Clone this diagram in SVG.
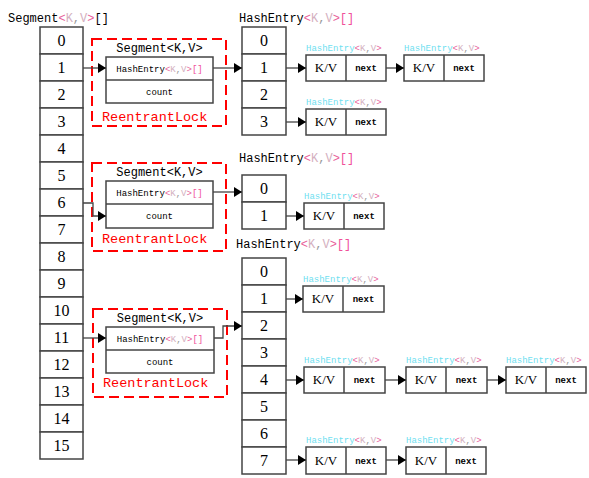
<svg xmlns="http://www.w3.org/2000/svg" width="589" height="478" viewBox="0 0 589 478">
<defs>
<marker id="ah" markerWidth="8" markerHeight="10" refX="8" refY="5" orient="auto" markerUnits="userSpaceOnUse">
<path d="M0,0 L8,5 L0,10 Z" fill="#000"/>
</marker>
<style>
.cell{fill:#fff;stroke:#444;stroke-width:1.5}
.box{fill:#fff;stroke:#444;stroke-width:1.5}
.dash{fill:none;stroke:#f00;stroke-width:2;stroke-dasharray:10,5}
.num{font-family:"Liberation Serif",serif;font-size:16px;fill:#000;text-anchor:middle}
.kv{font-family:"Liberation Serif",serif;font-size:13px;fill:#000;text-anchor:middle}
.nx{font-family:"Liberation Mono",monospace;font-size:9px;font-weight:bold;fill:#000;text-anchor:middle}
.mono12{font-family:"Liberation Mono",monospace;font-size:12px;fill:#000}
.mono9{font-family:"Liberation Mono",monospace;font-size:9px;fill:#000}
.lock{font-family:"Liberation Mono",monospace;font-size:13.5px;fill:#f00}
.cy{fill:#70e0f0}
.pk{fill:#e8609a}
.lt{fill:#d4b0c0}
.gr{fill:#999}
.hp{fill:#f0509a}
.conn{fill:none;stroke:#444;stroke-width:1.3}
</style>
</defs>

<text x="8" y="22" class="mono12">Segment<tspan class="pk">&lt;</tspan><tspan class="lt">K</tspan><tspan class="gr">,</tspan><tspan class="lt">V</tspan><tspan class="pk">&gt;</tspan>[]</text>

<g id="segment-array">
<rect class="cell" x="40" y="27" width="43" height="27"/><text class="num" x="61.5" y="46">0</text>
<rect class="cell" x="40" y="54" width="43" height="27"/><text class="num" x="61.5" y="73">1</text>
<rect class="cell" x="40" y="81" width="43" height="27"/><text class="num" x="61.5" y="100">2</text>
<rect class="cell" x="40" y="108" width="43" height="27"/><text class="num" x="61.5" y="127">3</text>
<rect class="cell" x="40" y="135" width="43" height="27"/><text class="num" x="61.5" y="154">4</text>
<rect class="cell" x="40" y="162" width="43" height="27"/><text class="num" x="61.5" y="181">5</text>
<rect class="cell" x="40" y="189" width="43" height="27"/><text class="num" x="61.5" y="208">6</text>
<rect class="cell" x="40" y="216" width="43" height="27"/><text class="num" x="61.5" y="235">7</text>
<rect class="cell" x="40" y="243" width="43" height="27"/><text class="num" x="61.5" y="262">8</text>
<rect class="cell" x="40" y="270" width="43" height="27"/><text class="num" x="61.5" y="289">9</text>
<rect class="cell" x="40" y="297" width="43" height="27"/><text class="num" x="61.5" y="316">10</text>
<rect class="cell" x="40" y="324" width="43" height="27"/><text class="num" x="61.5" y="343">11</text>
<rect class="cell" x="40" y="351" width="43" height="27"/><text class="num" x="61.5" y="370">12</text>
<rect class="cell" x="40" y="378" width="43" height="27"/><text class="num" x="61.5" y="397">13</text>
<rect class="cell" x="40" y="405" width="43" height="27"/><text class="num" x="61.5" y="424">14</text>
<rect class="cell" x="40" y="432" width="43" height="27"/><text class="num" x="61.5" y="451">15</text>
</g>

<g id="segment-1">
<rect class="dash" x="92" y="39" width="134" height="87"/>
<text class="mono12" x="159.5" y="52" text-anchor="middle">Segment&lt;K,V&gt;</text>
<rect class="box" x="106" y="57" width="107" height="46"/>
<line x1="106" y1="80" x2="213" y2="80" stroke="#444" stroke-width="1.5"/>
<text class="mono9" x="159.5" y="72" text-anchor="middle">HashEntry<tspan class="pk">&lt;</tspan><tspan class="lt">K</tspan><tspan class="gr">,</tspan><tspan class="lt">V</tspan><tspan class="pk">&gt;</tspan><tspan class="hp">[]</tspan></text>
<text class="mono9" x="159.5" y="95" text-anchor="middle">count</text>
<text class="lock" x="102" y="121">ReentrantLock</text>
</g>

<g id="segment-2">
<rect class="dash" x="92" y="163" width="134" height="88"/>
<text class="mono12" x="159.5" y="176" text-anchor="middle">Segment&lt;K,V&gt;</text>
<rect class="box" x="106" y="181" width="107" height="47"/>
<line x1="106" y1="204" x2="213" y2="204" stroke="#444" stroke-width="1.5"/>
<text class="mono9" x="159.5" y="196" text-anchor="middle">HashEntry<tspan class="pk">&lt;</tspan><tspan class="lt">K</tspan><tspan class="gr">,</tspan><tspan class="lt">V</tspan><tspan class="pk">&gt;</tspan><tspan class="hp">[]</tspan></text>
<text class="mono9" x="159.5" y="219" text-anchor="middle">count</text>
<text class="lock" x="102" y="243">ReentrantLock</text>
</g>

<g id="segment-3">
<rect class="dash" x="93" y="309" width="134" height="88"/>
<text class="mono12" x="160" y="322" text-anchor="middle">Segment&lt;K,V&gt;</text>
<rect class="box" x="106" y="327" width="108" height="46"/>
<line x1="106" y1="350" x2="214" y2="350" stroke="#444" stroke-width="1.5"/>
<text class="mono9" x="160" y="342" text-anchor="middle">HashEntry<tspan class="pk">&lt;</tspan><tspan class="lt">K</tspan><tspan class="gr">,</tspan><tspan class="lt">V</tspan><tspan class="pk">&gt;</tspan><tspan class="hp">[]</tspan></text>
<text class="mono9" x="160" y="365" text-anchor="middle">count</text>
<text class="lock" x="103" y="387">ReentrantLock</text>
</g>

<g id="hash-array-1">
<text class="mono12" x="239" y="22">HashEntry<tspan class="pk">&lt;</tspan><tspan class="lt">K</tspan><tspan class="gr">,</tspan><tspan class="lt">V</tspan><tspan class="pk">&gt;</tspan><tspan class="hp">[]</tspan></text>
<rect class="cell" x="242" y="27" width="44" height="27"/><text class="num" x="264" y="46">0</text>
<rect class="cell" x="242" y="54" width="44" height="27"/><text class="num" x="264" y="73">1</text>
<rect class="cell" x="242" y="81" width="44" height="27"/><text class="num" x="264" y="100">2</text>
<rect class="cell" x="242" y="108" width="44" height="27"/><text class="num" x="264" y="127">3</text>
</g>

<g id="hash-array-2">
<text class="mono12" x="239" y="162">HashEntry<tspan class="pk">&lt;</tspan><tspan class="lt">K</tspan><tspan class="gr">,</tspan><tspan class="lt">V</tspan><tspan class="pk">&gt;</tspan><tspan class="hp">[]</tspan></text>
<rect class="cell" x="242" y="175" width="44" height="27"/><text class="num" x="264" y="194">0</text>
<rect class="cell" x="242" y="202" width="44" height="27"/><text class="num" x="264" y="221">1</text>
</g>

<g id="hash-array-3">
<text class="mono12" x="236" y="248">HashEntry<tspan class="pk">&lt;</tspan><tspan class="lt">K</tspan><tspan class="gr">,</tspan><tspan class="lt">V</tspan><tspan class="pk">&gt;</tspan><tspan class="hp">[]</tspan></text>
<rect class="cell" x="242" y="258" width="44" height="27"/><text class="num" x="264" y="277">0</text>
<rect class="cell" x="242" y="285" width="44" height="27"/><text class="num" x="264" y="304">1</text>
<rect class="cell" x="242" y="312" width="44" height="27"/><text class="num" x="264" y="331">2</text>
<rect class="cell" x="242" y="339" width="44" height="27"/><text class="num" x="264" y="358">3</text>
<rect class="cell" x="242" y="366" width="44" height="27"/><text class="num" x="264" y="385">4</text>
<rect class="cell" x="242" y="393" width="44" height="27"/><text class="num" x="264" y="412">5</text>
<rect class="cell" x="242" y="420" width="44" height="27"/><text class="num" x="264" y="439">6</text>
<rect class="cell" x="242" y="447" width="44" height="27"/><text class="num" x="264" y="466">7</text>
</g>

<g id="entry-1a">
<text class="mono9" x="306" y="51"><tspan class="cy">HashEntry</tspan><tspan class="pk">&lt;</tspan><tspan class="lt">K</tspan><tspan class="gr">,</tspan><tspan class="lt">V</tspan><tspan class="pk">&gt;</tspan></text>
<rect class="box" x="306" y="55" width="80" height="26"/><line x1="346" y1="55" x2="346" y2="81" stroke="#444" stroke-width="1.5"/>
<text class="kv" x="326" y="72">K/V</text><text class="nx" x="366" y="71">next</text>
</g>
<g id="entry-1b">
<text class="mono9" x="404" y="51"><tspan class="cy">HashEntry</tspan><tspan class="pk">&lt;</tspan><tspan class="lt">K</tspan><tspan class="gr">,</tspan><tspan class="lt">V</tspan><tspan class="pk">&gt;</tspan></text>
<rect class="box" x="404" y="55" width="80" height="26"/><line x1="444" y1="55" x2="444" y2="81" stroke="#444" stroke-width="1.5"/>
<text class="kv" x="424" y="72">K/V</text><text class="nx" x="464" y="71">next</text>
</g>
<g id="entry-1c">
<text class="mono9" x="306" y="105"><tspan class="cy">HashEntry</tspan><tspan class="pk">&lt;</tspan><tspan class="lt">K</tspan><tspan class="gr">,</tspan><tspan class="lt">V</tspan><tspan class="pk">&gt;</tspan></text>
<rect class="box" x="306" y="109" width="80" height="26"/><line x1="346" y1="109" x2="346" y2="135" stroke="#444" stroke-width="1.5"/>
<text class="kv" x="326" y="126">K/V</text><text class="nx" x="366" y="125">next</text>
</g>
<g id="entry-2a">
<text class="mono9" x="304" y="199"><tspan class="cy">HashEntry</tspan><tspan class="pk">&lt;</tspan><tspan class="lt">K</tspan><tspan class="gr">,</tspan><tspan class="lt">V</tspan><tspan class="pk">&gt;</tspan></text>
<rect class="box" x="304" y="203" width="80" height="26"/><line x1="344" y1="203" x2="344" y2="229" stroke="#444" stroke-width="1.5"/>
<text class="kv" x="324" y="220">K/V</text><text class="nx" x="364" y="219">next</text>
</g>
<g id="entry-3a">
<text class="mono9" x="303" y="282"><tspan class="cy">HashEntry</tspan><tspan class="pk">&lt;</tspan><tspan class="lt">K</tspan><tspan class="gr">,</tspan><tspan class="lt">V</tspan><tspan class="pk">&gt;</tspan></text>
<rect class="box" x="303" y="286" width="81" height="26"/><line x1="343" y1="286" x2="343" y2="312" stroke="#444" stroke-width="1.5"/>
<text class="kv" x="323" y="303">K/V</text><text class="nx" x="363.5" y="302">next</text>
</g>
<g id="entry-3b">
<text class="mono9" x="304" y="363"><tspan class="cy">HashEntry</tspan><tspan class="pk">&lt;</tspan><tspan class="lt">K</tspan><tspan class="gr">,</tspan><tspan class="lt">V</tspan><tspan class="pk">&gt;</tspan></text>
<rect class="box" x="304" y="367" width="81" height="26"/><line x1="344" y1="367" x2="344" y2="393" stroke="#444" stroke-width="1.5"/>
<text class="kv" x="324" y="384">K/V</text><text class="nx" x="364.5" y="383">next</text>
</g>
<g id="entry-3c">
<text class="mono9" x="406" y="363"><tspan class="cy">HashEntry</tspan><tspan class="pk">&lt;</tspan><tspan class="lt">K</tspan><tspan class="gr">,</tspan><tspan class="lt">V</tspan><tspan class="pk">&gt;</tspan></text>
<rect class="box" x="406" y="367" width="81" height="26"/><line x1="446" y1="367" x2="446" y2="393" stroke="#444" stroke-width="1.5"/>
<text class="kv" x="426" y="384">K/V</text><text class="nx" x="466.5" y="383">next</text>
</g>
<g id="entry-3d">
<text class="mono9" x="506" y="363"><tspan class="cy">HashEntry</tspan><tspan class="pk">&lt;</tspan><tspan class="lt">K</tspan><tspan class="gr">,</tspan><tspan class="lt">V</tspan><tspan class="pk">&gt;</tspan></text>
<rect class="box" x="506" y="367" width="80" height="26"/><line x1="546" y1="367" x2="546" y2="393" stroke="#444" stroke-width="1.5"/>
<text class="kv" x="526" y="384">K/V</text><text class="nx" x="566" y="383">next</text>
</g>
<g id="entry-3e">
<text class="mono9" x="306" y="443"><tspan class="cy">HashEntry</tspan><tspan class="pk">&lt;</tspan><tspan class="lt">K</tspan><tspan class="gr">,</tspan><tspan class="lt">V</tspan><tspan class="pk">&gt;</tspan></text>
<rect class="box" x="306" y="447" width="80" height="27"/><line x1="346" y1="447" x2="346" y2="474" stroke="#444" stroke-width="1.5"/>
<text class="kv" x="326" y="465">K/V</text><text class="nx" x="366" y="464">next</text>
</g>
<g id="entry-3f">
<text class="mono9" x="406" y="443"><tspan class="cy">HashEntry</tspan><tspan class="pk">&lt;</tspan><tspan class="lt">K</tspan><tspan class="gr">,</tspan><tspan class="lt">V</tspan><tspan class="pk">&gt;</tspan></text>
<rect class="box" x="406" y="447" width="80" height="27"/><line x1="446" y1="447" x2="446" y2="474" stroke="#444" stroke-width="1.5"/>
<text class="kv" x="426" y="465">K/V</text><text class="nx" x="466" y="464">next</text>
</g>

<g id="connectors">
<path class="conn" marker-end="url(#ah)" d="M83,68 H106"/>
<path class="conn" marker-end="url(#ah)" d="M213,68 H242"/>
<path class="conn" marker-end="url(#ah)" d="M83,203 H93 V216 H106"/>
<path class="conn" marker-end="url(#ah)" d="M213,192 H242"/>
<path class="conn" marker-end="url(#ah)" d="M83,338 H106"/>
<path class="conn" marker-end="url(#ah)" d="M214,338 H223 V326 H242"/>
<path class="conn" marker-end="url(#ah)" d="M286,68 H306"/>
<path class="conn" marker-end="url(#ah)" d="M386,68 H404"/>
<path class="conn" marker-end="url(#ah)" d="M286,122 H306"/>
<path class="conn" marker-end="url(#ah)" d="M286,216 H304"/>
<path class="conn" marker-end="url(#ah)" d="M286,299 H303"/>
<path class="conn" marker-end="url(#ah)" d="M286,380 H304"/>
<path class="conn" marker-end="url(#ah)" d="M385,380 H406"/>
<path class="conn" marker-end="url(#ah)" d="M487,380 H506"/>
<path class="conn" marker-end="url(#ah)" d="M286,460 H306"/>
<path class="conn" marker-end="url(#ah)" d="M386,460 H406"/>
</g>
</svg>
